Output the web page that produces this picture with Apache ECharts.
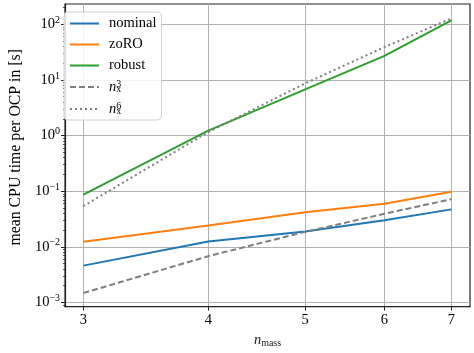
<!DOCTYPE html>
<html>
<head>
<meta charset="utf-8">
<script src="https://cdn.jsdelivr.net/npm/echarts@6/dist/echarts.min.js"></script>
<style>
  html, body { margin: 0; padding: 0; background: #fff; }
  #chart { width: 474px; height: 353px; }
</style>
</head>
<body>
<div id="chart"></div>
<script>
// values (seconds, log-log plot)
const nMass = [3, 4, 5, 6, 7];
const nominal = [0.0046, 0.0125, 0.0188, 0.0301, 0.0472];
const zoro = [0.0123, 0.0243, 0.0418, 0.0596, 0.098];
const robust = [0.087, 1.23, 6.8, 27.2, 118];
const nx3 = [0.00148, 0.0068, 0.0186, 0.0394, 0.072];
const nx6 = [0.054, 1.16, 8.7, 39, 128];
const xTicks = [3, 4, 5, 6, 7];
const yTickExp = [-3, -2, -1, 0, 1, 2];

const font = "Liberation Serif";
const lg = Math.log10;

// log-log: axes run on log10 values
function pts(vals) {
  return nMass.map((n, i) => [lg(n), lg(vals[i])]);
}
let yMinor = [];
for (let e = -4; e <= 2; e++) {
  for (let k = 2; k <= 9; k++) yMinor.push(lg(k) + e);
}
const yMin = -3.074, yMax = 2.366;
yMinor = yMinor.filter(v => v > yMin && v < yMax);

const legendText = {
  nominal: "nominal",
  zoRO: "zoRO",
  robust: "robust",
  nx3: "{it|n}{sup|3}{sub|x}",
  nx6: "{it|n}{sup|6}{sub|x}"
};

function line(name, vals, color, type) {
  return {
    name: name,
    type: "line",
    data: pts(vals),
    symbol: "none",
    silent: true,
    lineStyle: { color: color, width: 2, type: type || "solid" },
    itemStyle: { color: color }
  };
}

const chart = echarts.init(document.getElementById("chart"));
chart.setOption({
  animation: false,
  textStyle: { fontFamily: font },
  grid: {
    left: 57, right: 4, top: 4, bottom: 41.5,
    show: true, borderColor: "#222", borderWidth: 1.2, backgroundColor: "transparent"
  },
  legend: {
    orient: "vertical",
    left: 64, top: 12,
    padding: [4, 5, 3, 5],
    itemWidth: 29, itemHeight: 14, itemGap: 6,
    backgroundColor: "rgba(255,255,255,0.85)",
    borderColor: "#d0d0d0", borderWidth: 1, borderRadius: 4,
    itemStyle: { opacity: 0 },
    data: ["nominal", "zoRO", "robust", "nx3", "nx6"],
    formatter: name => legendText[name],
    textStyle: {
      fontFamily: font, fontSize: 14.5, color: "#000", padding: [0, 0, 0, 5], lineHeight: 14,
      rich: {
        it: { fontFamily: font, fontStyle: "italic", fontSize: 14.5, lineHeight: 14 },
        sup: { fontFamily: font, fontSize: 10, width: 0, lineHeight: 14, padding: [0, 0, 6, 0] },
        sub: { fontFamily: font, fontSize: 10, lineHeight: 14, padding: [4, 0, 0, 0] }
      }
    }
  },
  xAxis: {
    type: "value",
    min: 0.4588, max: 0.8637,
    name: "{it|n}{sub|mass}",
    nameLocation: "middle",
    nameGap: 24,
    nameTextStyle: {
      rich: {
        it: { fontFamily: font, fontStyle: "italic", fontSize: 14.5 },
        sub: { fontFamily: font, fontSize: 10, padding: [6, 0, 0, 0] }
      }
    },
    axisLine: { show: true, onZero: false, lineStyle: { color: "#222", width: 1.2 } },
    axisTick: { show: true, length: 4, customValues: xTicks.map(lg), lineStyle: { color: "#222" } },
    axisLabel: {
      customValues: xTicks.map(lg),
      margin: 6,
      fontFamily: font, fontSize: 14.5, color: "#000",
      formatter: v => String(Math.round(Math.pow(10, v)))
    },
    splitLine: { show: true, lineStyle: { color: "#b0b0b0", width: 1 } }
  },
  yAxis: [
    {
      type: "value",
      min: yMin, max: yMax,
      name: "mean CPU time per OCP in [s]",
      nameLocation: "middle",
      nameGap: 39,
      nameRotate: 90,
      nameTextStyle: { fontFamily: font, fontSize: 15.8, color: "#000", padding: [0, 0, 0, 16] },
      axisLine: { show: true, onZero: false, lineStyle: { color: "#222", width: 1.2 } },
      axisTick: { show: true, length: 4, customValues: yTickExp, lineStyle: { color: "#222" } },
      axisLabel: {
        customValues: yTickExp,
        margin: 5,
        color: "#000",
        formatter: v => "{b|10}{sup|" + String(Math.round(v)).replace("-", "\u2212") + "}",
        rich: {
          b: { fontFamily: font, fontSize: 14.5 },
          sup: { fontFamily: font, fontSize: 10, padding: [0, 0, 8, 0] }
        }
      },
      splitLine: { show: true, lineStyle: { color: "#b0b0b0", width: 1 } }
    },
    {
      type: "value",
      min: yMin, max: yMax,
      position: "left",
      axisLine: { show: false },
      axisTick: { show: true, length: 2, customValues: yMinor, lineStyle: { color: "#222", width: 0.8 } },
      axisLabel: { show: false },
      splitLine: { show: false }
    }
  ],
  series: [
    line("nominal", nominal, "#1f77b4"),
    line("zoRO", zoro, "#ff7f0e"),
    line("robust", robust, "#2ca02c"),
    line("nx3", nx3, "#7f7f7f", [6, 3]),
    line("nx6", nx6, "#7f7f7f", [2, 3])
  ]
});
</script>
</body>
</html>
